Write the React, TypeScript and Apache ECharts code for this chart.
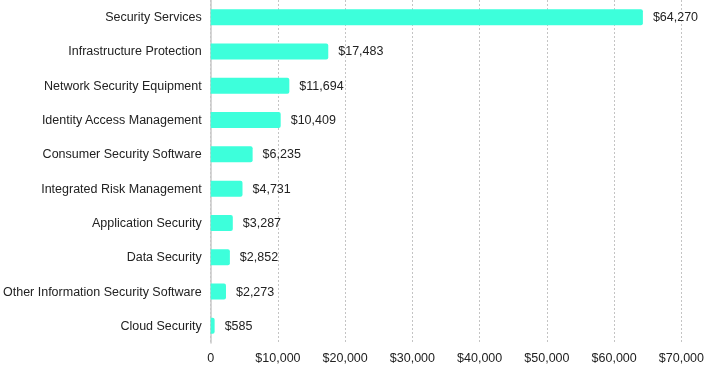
import React, { useEffect, useRef } from "react";
import * as echarts from "echarts";

const categories = [
  "Security Services",
  "Infrastructure Protection",
  "Network Security Equipment",
  "Identity Access Management",
  "Consumer Security Software",
  "Integrated Risk Management",
  "Application Security",
  "Data Security",
  "Other Information Security Software",
  "Cloud Security",
];
const values = [64270, 17483, 11694, 10409, 6235, 4731, 3287, 2852, 2273, 585];

const fmt = (v: number) => (v === 0 ? "0" : "$" + v.toLocaleString("en-US"));

export default function App() {
  const ref = useRef<HTMLDivElement>(null);
  useEffect(() => {
    if (!ref.current) return;
    const chart = echarts.init(ref.current, undefined, { renderer: "svg" });
    chart.setOption({
      animation: false,
      textStyle: { fontFamily: "Liberation Sans, Arial, sans-serif" },
      grid: { left: 208, right: 22, top: 0, bottom: 27, containLabel: false },
      xAxis: {
        type: "value",
        min: 0,
        max: 70000,
        interval: 10000,
        axisLine: { show: false },
        axisTick: { show: false },
        axisLabel: { color: "#222", fontSize: 12.5, formatter: (v: number) => fmt(v), margin: 8 },
        splitLine: { show: true, lineStyle: { color: "#c4c4c4", type: [2, 2], width: 1 } },
      },
      yAxis: {
        type: "category",
        inverse: true,
        data: categories,
        axisLine: { show: true, lineStyle: { color: "#c8c8c8", width: 1.5 } },
        axisTick: { show: false },
        axisLabel: { color: "#222", fontSize: 12.5, margin: 9 },
      },
      series: [
        {
          type: "bar",
          data: values,
          barWidth: 16,
          itemStyle: { color: "#3DFFDB", borderRadius: [0, 2, 2, 0] },
          label: {
            show: true,
            position: "right",
            distance: 10,
            color: "#222",
            fontSize: 12.5,
            formatter: (p: any) => fmt(p.value),
          },
        },
      ],
    });
    return () => chart.dispose();
  }, []);
  return (
    <div
      ref={ref}
      style={{ position: "fixed", left: 0, top: 0, width: 707, height: 370 }}
    />
  );
}
